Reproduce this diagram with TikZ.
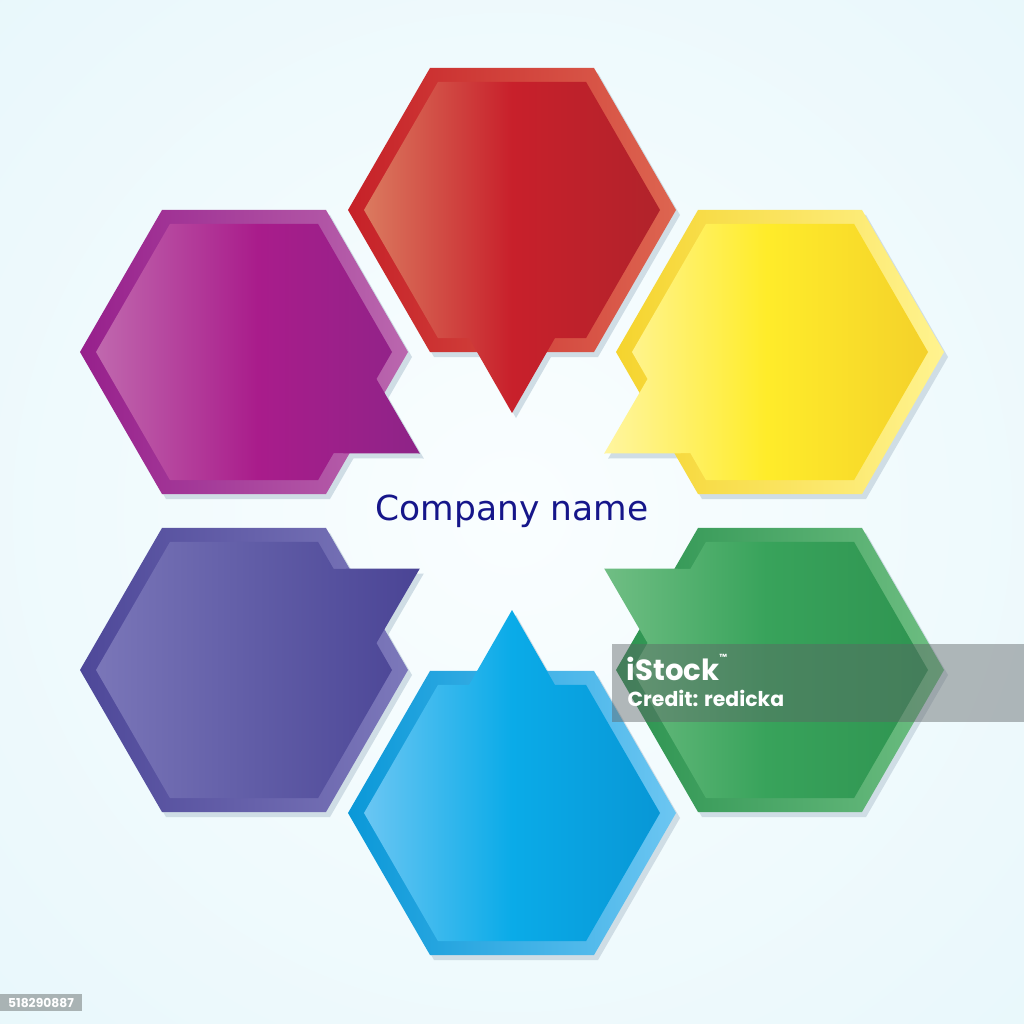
\documentclass[tikz,border=0pt]{standalone}
\usepackage{fontspec}
\newfontfamily\namefont{DejaVu Sans}
\newfontfamily\creditfont{Poppins}
\definecolor{bgcyan}{HTML}{E2F5FA}
\definecolor{bgwhite}{HTML}{FAFEFF}
\definecolor{shadowblue}{HTML}{CFDDE5}
\definecolor{navy}{HTML}{16168A}
\definecolor{markgray}{HTML}{5E6466}
\definecolor{idgray}{HTML}{A9B3B4}
% band left/right, then inner left/middle/right
\definecolor{redBandL}{HTML}{C62128}
\definecolor{redBandR}{HTML}{DD6550}
\definecolor{redL}{HTML}{DB7A5F}
\definecolor{redM}{HTML}{C8202B}
\definecolor{redR}{HTML}{B1232B}
\definecolor{yellowBandL}{HTML}{F5D42E}
\definecolor{yellowBandR}{HTML}{FFF38F}
\definecolor{yellowL}{HTML}{FFF5A0}
\definecolor{yellowM}{HTML}{FFEC2A}
\definecolor{yellowR}{HTML}{F4D12A}
\definecolor{greenBandL}{HTML}{2C9350}
\definecolor{greenBandR}{HTML}{6EBE82}
\definecolor{greenL}{HTML}{70BE84}
\definecolor{greenM}{HTML}{38A35B}
\definecolor{greenR}{HTML}{2F9451}
\definecolor{blueBandL}{HTML}{0A98D8}
\definecolor{blueBandR}{HTML}{6CC6F2}
\definecolor{blueL}{HTML}{6AC6F3}
\definecolor{blueM}{HTML}{0AABE8}
\definecolor{blueR}{HTML}{0897D6}
\definecolor{indigoBandL}{HTML}{4E4899}
\definecolor{indigoBandR}{HTML}{7C78BA}
\definecolor{indigoL}{HTML}{7A76B8}
\definecolor{indigoM}{HTML}{605CA6}
\definecolor{indigoR}{HTML}{4A4495}
\definecolor{purpleBandL}{HTML}{97208C}
\definecolor{purpleBandR}{HTML}{BA67AE}
\definecolor{purpleL}{HTML}{C068AE}
\definecolor{purpleM}{HTML}{A91C8B}
\definecolor{purpleR}{HTML}{8E2488}

\begin{document}
\begin{tikzpicture}[x=0.1mm,y=-0.1mm,
	namelabel/.style={text=navy,font=\namefont\fontsize{9.8}{12}\selectfont},
	creditlabel/.style={text=white,anchor=base west,inner sep=0pt,font=\creditfont\bfseries}]
	\useasboundingbox (0,0) rectangle (1024,1024);
	\clip (0,0) rectangle (1024,1024);
	\fill[bgcyan] (0,0) rectangle (1024,1024);
	\shade[inner color=bgwhite,outer color=bgcyan] (512,512) circle (1000);
	\coordinate (red) at (512,210);
	\coordinate (yellow) at (780,352);
	\coordinate (green) at (780,670);
	\coordinate (blue) at (512,813);
	\coordinate (indigo) at (244,670);
	\coordinate (purple) at (244,352);
	\foreach \hex/\dir in {red/90,yellow/150,green/210,blue/270,indigo/330,purple/30}{
		\begin{scope}[shift={(\hex)}]
			\fill[shadowblue,shift={(4,5)}] (0:164) -- (60:164) -- (120:164) -- (180:164) -- (240:164) -- (300:164) -- cycle
				(\dir-26:122) -- (\dir:203) -- (\dir+26:122) -- cycle;
			\shade[left color=\hex BandL,right color=\hex BandR] (0:164) -- (60:164) -- (120:164) -- (180:164) -- (240:164) -- (300:164) -- cycle;
			\shade[left color=\hex L,right color=\hex R,middle color=\hex M] (0:148) -- (60:148) -- (120:148) -- (180:148) -- (240:148) -- (300:148) -- cycle
				(\dir-26:122) -- (\dir:203) -- (\dir+26:122) -- cycle;
		\end{scope}
	}
	\node[namelabel] (company) at (512,511) {Company name};
	% stock marks
	\fill[markgray,fill opacity=0.45] (612,644) rectangle (1024,722);
	\node[creditlabel,font=\creditfont\bfseries\fontsize{8.3}{10}\selectfont] (istock) at (626,680) {iStock\raisebox{1.2ex}{\fontsize{2.5}{3}\selectfont ™}};
	\node[creditlabel,font=\creditfont\bfseries\fontsize{5.8}{7}\selectfont] (credit) at (627,706) {Credit: redicka};
	\fill[idgray] (0,994) rectangle (82,1011);
	\node[text=white,font=\creditfont\bfseries\fontsize{3.5}{4}\selectfont] (imageid) at (41,1002.5) {518290887};
\end{tikzpicture}
\end{document}
